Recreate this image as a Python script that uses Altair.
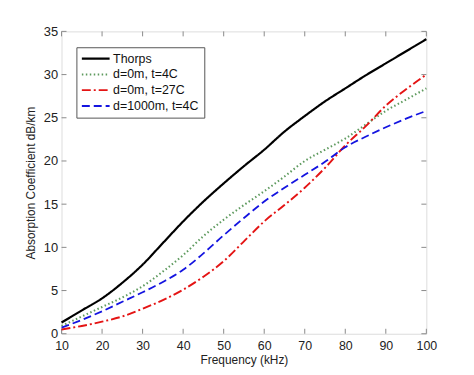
import altair as alt
import pandas as pd

freq = [10, 15, 20, 25, 30, 35, 40, 45, 50, 55, 60, 65, 70, 75, 80, 85, 90, 95, 100]
thorps = [1.3, 2.7, 4.1, 5.9, 8.0, 10.5, 13.0, 15.3, 17.4, 19.4, 21.3, 23.4, 25.2, 26.9, 28.4, 29.9, 31.3, 32.7, 34.1]
d0_t4 = [0.9, 2.0, 3.1, 4.2, 5.5, 7.2, 9.1, 11.3, 13.2, 14.9, 16.5, 18.2, 20.0, 21.3, 22.6, 24.2, 25.8, 27.1, 28.4]
d0_t27 = [0.5, 0.9, 1.4, 2.0, 2.9, 3.9, 5.1, 6.6, 8.4, 10.7, 13.0, 14.9, 16.9, 19.2, 21.8, 24.0, 26.4, 28.3, 30.0]
d1000_t4 = [0.7, 1.6, 2.6, 3.7, 4.8, 6.0, 7.4, 9.3, 11.4, 13.4, 15.3, 16.9, 18.4, 19.9, 21.6, 22.8, 23.9, 24.9, 25.8]

series_names = ["Thorps", "d=0m, t=4C", "d=0m, t=27C", "d=1000m, t=4C"]
series_values = [thorps, d0_t4, d0_t27, d1000_t4]
colors = ["#000000", "#5e9a5e", "#e41414", "#1414e0"]
dashes = [[1, 0], [1.5, 2.5], [9, 3, 2, 3], [8, 4]]
widths = [2.2, 1.8, 2.4, 2.6]

x_ticks = [10, 20, 30, 40, 50, 60, 70, 80, 90, 100]
y_ticks = [0, 5, 10, 15, 20, 25, 30, 35]

rows = []
for name, vals in zip(series_names, series_values):
    for f, v in zip(freq, vals):
        rows.append({"Frequency": f, "Value": v, "Series": name})
df = pd.DataFrame(rows)

W, H = 368, 305
TL = 5
tick_color = "#8a8a8a"
FONT = "Liberation Sans"

xs = alt.Scale(domain=[10, 100], nice=False)
ys = alt.Scale(domain=[0, 35], nice=False)

lines = alt.Chart(df).mark_line(interpolate="monotone").encode(
    x=alt.X("Frequency:Q", scale=xs,
            axis=alt.Axis(values=x_ticks, title="Frequency (kHz)", ticks=False, domain=False,
                          grid=False, labelPadding=6, labelFontSize=12.5, titleFontSize=12,
                          titleFontWeight="normal", titlePadding=3, labelColor="#222",
                          titleColor="#222", labelFont=FONT, titleFont=FONT, labelFlush=False)),
    y=alt.Y("Value:Q", scale=ys,
            axis=alt.Axis(values=y_ticks, title="Absorption Coefficient dB/km", ticks=False, domain=False,
                          grid=False, labelPadding=4, labelFontSize=13, titleFontSize=12,
                          titleFontWeight="normal", titlePadding=6, labelColor="#222",
                          titleColor="#222", labelFont=FONT, titleFont=FONT, labelFlush=False)),
    color=alt.Color("Series:N", sort=series_names,
                    scale=alt.Scale(domain=series_names, range=colors),
                    legend=alt.Legend(title=None, orient="none", legendX=15, legendY=16,
                                      symbolType="M-2.8,0H2.8", symbolSize=100, symbolStrokeWidth=2.2,
                                      symbolOffset=8,
                                      labelFontSize=12.5, labelFont=FONT, labelColor="#111",
                                      strokeColor="#555", fillColor="white", padding=5,
                                      rowPadding=3, labelOffset=11)),
    strokeDash=alt.StrokeDash("Series:N", sort=series_names,
                              scale=alt.Scale(domain=series_names, range=dashes)),
    strokeWidth=alt.StrokeWidth("Series:N", sort=series_names,
                                scale=alt.Scale(domain=series_names, range=widths), legend=None),
)

xt = pd.DataFrame({"v": x_ticks})
yt = pd.DataFrame({"v": y_ticks})

bottom_ticks = alt.Chart(xt).mark_rule(color=tick_color, strokeWidth=1).encode(
    x=alt.X("v:Q", scale=xs), y=alt.value(H), y2=alt.value(H - TL))
top_ticks = alt.Chart(xt).mark_rule(color=tick_color, strokeWidth=1).encode(
    x=alt.X("v:Q", scale=xs), y=alt.value(0), y2=alt.value(TL))
left_ticks = alt.Chart(yt).mark_rule(color=tick_color, strokeWidth=1).encode(
    y=alt.Y("v:Q", scale=ys), x=alt.value(0), x2=alt.value(TL))
right_ticks = alt.Chart(yt).mark_rule(color=tick_color, strokeWidth=1).encode(
    y=alt.Y("v:Q", scale=ys), x=alt.value(W), x2=alt.value(W - TL))

chart = alt.layer(bottom_ticks, top_ticks, left_ticks, right_ticks, lines).properties(
    width=W, height=H,
    autosize=alt.AutoSizeParams(type="none"),
    padding={"left": 54, "top": 22, "right": 40, "bottom": 38},
).configure_view(stroke=tick_color, strokeWidth=1.5).configure(background="white")

chart.save("out.html", embed_options={"renderer": "svg", "actions": False})
